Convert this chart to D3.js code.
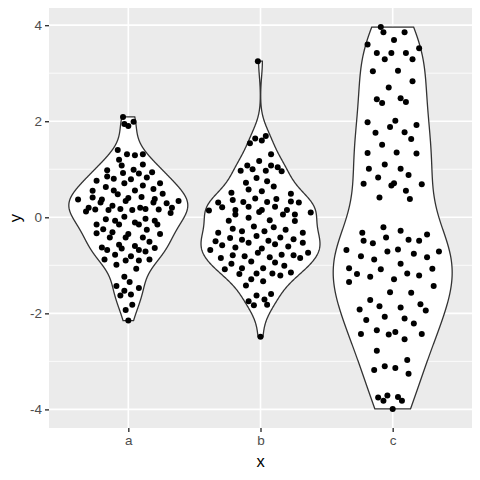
<!DOCTYPE html>
<html>
<head>
<meta charset="utf-8">
<script src="https://cdn.jsdelivr.net/npm/d3@7"></script>
<style>
  body { margin: 0; background: #fff; }
  text { font-family: "Liberation Sans", Arial, sans-serif; }
</style>
</head>
<body>
<div class="violin"></div>
<script>
const CATEGORIES = ['a', 'b', 'c'];

// y values and horizontal jitter (in category-step units)
const A_Y = [2.09, 1.94, 1.90, 1.99, 1.40, 1.31, 1.29, 1.31, 1.20, 1.10, 1.08, 0.98, 0.99, 0.92, 0.91, 0.94, 0.85, 0.80, 0.79, 0.83,
  0.76, 0.71, 0.71, 0.63, 0.66, 0.55, 0.56, 0.48, 0.56, 0.59, 0.49, 0.41, 0.37, 0.40, 0.42, 0.38, 0.37, 0.31, 0.34, 0.31,
  0.29, 0.34, 0.24, 0.20, 0.16, 0.15, 0.17, 0.15, 0.20, 0.17, 0.16, 0.20, 0.12, 0.09, 0.01, -0.04, -0.07, -0.03, -0.07, -0.15,
  -0.15, -0.11, -0.15, -0.15, -0.25, -0.26, -0.33, -0.31, -0.35, -0.35, -0.42, -0.42, -0.42, -0.51, -0.57, -0.63, -0.60, -0.68, -0.65, -0.68,
  -0.71, -0.64, -0.78, -0.81, -0.88, -0.90, -0.90, -0.88, -0.99, -1.07, -1.24, -1.35, -1.43, -1.47, -1.53, -1.63, -1.61, -1.82, -1.93, -2.15];
const A_DX = [-0.04, -0.03, 0.00, 0.04, -0.08, -0.01, 0.05, 0.11, -0.07, 0.11, -0.05, -0.16, 0.04, -0.04, 0.08, 0.18, -0.16, -0.11, 0.02, 0.14,
  -0.24, -0.03, 0.24, -0.17, 0.11, -0.27, -0.11, -0.08, 0.05, 0.19, 0.26, -0.27, -0.20, 0.00, 0.10, 0.20, -0.38, -0.21, -0.02, 0.19,
  0.29, 0.38, -0.12, -0.30, -0.25, -0.15, -0.06, 0.03, 0.09, 0.13, 0.23, 0.33, -0.32, 0.32, -0.03, -0.17, -0.10, 0.13, 0.20, -0.24,
  -0.07, 0.05, 0.08, 0.22, -0.19, 0.14, -0.24, -0.12, 0.00, 0.24, -0.14, -0.02, 0.11, 0.16, -0.07, -0.20, 0.05, -0.16, -0.05, 0.08,
  0.13, 0.20, -0.10, 0.02, -0.18, -0.02, 0.08, 0.16, -0.09, 0.06, -0.03, 0.01, -0.09, 0.08, -0.03, -0.06, 0.02, 0.03, -0.02, 0.00];

const B_Y = [3.25, 1.54, 1.64, 1.60, 1.69, 1.31, 1.17, 1.08, 1.00, 1.08, 1.04, 0.97, 0.97, 0.96, 0.82, 0.72, 0.75, 0.64, 0.58, 0.54,
  0.51, 0.49, 0.36, 0.39, 0.38, 0.33, 0.31, 0.32, 0.32, 0.31, 0.21, 0.22, 0.22, 0.14, 0.15, 0.11, 0.15, 0.15, 0.10, 0.06,
  0.06, 0.06, -0.01, -0.06, -0.07, -0.08, -0.19, -0.21, -0.24, -0.29, -0.29, -0.26, -0.32, -0.32, -0.39, -0.43, -0.42, -0.50, -0.47, -0.53,
  -0.49, -0.46, -0.58, -0.56, -0.53, -0.63, -0.65, -0.61, -0.68, -0.74, -0.78, -0.79, -0.74, -0.79, -0.81, -0.85, -0.85, -0.83, -0.92, -0.94,
  -0.97, -1.08, -1.06, -1.06, -1.01, -1.18, -1.17, -1.17, -1.21, -1.15, -1.29, -1.33, -1.42, -1.63, -1.60, -1.75, -1.71, -1.83, -1.82, -2.49];
const B_DX = [-0.02, -0.08, -0.04, 0.01, 0.04, 0.08, -0.01, -0.10, -0.06, 0.08, 0.13, -0.15, 0.04, 0.16, -0.03, -0.11, 0.05, 0.10, -0.09, 0.01,
  -0.22, 0.23, -0.21, -0.04, 0.12, 0.23, -0.32, -0.13, 0.05, 0.29, -0.29, -0.09, 0.11, -0.39, -0.19, -0.01, 0.01, 0.20, 0.38, -0.19,
  0.17, 0.26, -0.09, 0.07, -0.24, 0.26, -0.05, 0.10, -0.21, -0.14, 0.03, 0.19, -0.32, 0.32, -0.03, -0.23, 0.15, -0.34, -0.14, -0.09,
  0.06, 0.25, -0.29, 0.11, 0.32, -0.19, 0.01, 0.21, -0.38, -0.02, 0.16, 0.25, 0.36, -0.21, -0.12, 0.30, -0.30, 0.07, -0.07, 0.11,
  -0.22, -0.27, -0.14, 0.02, 0.18, -0.16, -0.03, 0.09, 0.15, 0.23, -0.07, 0.02, -0.11, -0.03, 0.08, -0.09, 0.03, -0.05, 0.05, 0.00];

const C_Y = [3.96, 3.85, 3.85, 3.69, 3.60, 3.52, 3.42, 3.42, 3.42, 3.29, 3.29, 3.04, 3.05, 2.83, 2.70, 2.46, 2.38, 2.48, 2.40, 1.98,
  2.01, 1.88, 1.92, 1.76, 1.77, 1.63, 1.51, 1.34, 1.35, 1.33, 1.10, 1.01, 1.01, 0.88, 0.83, 0.70, 0.66, 0.71, 0.69, 0.55,
  0.41, 0.38, -0.21, -0.32, -0.28, -0.42, -0.49, -0.54, -0.47, -0.49, -0.36, -0.68, -0.71, -0.67, -0.76, -0.71, -0.81, -0.88, -0.83, -0.97,
  -1.06, -1.08, -1.07, -1.18, -1.24, -1.17, -1.21, -1.29, -1.35, -1.43, -1.56, -1.57, -1.72, -1.92, -1.85, -1.88, -1.81, -1.94, -2.14, -2.07,
  -2.11, -2.21, -2.43, -2.35, -2.44, -2.39, -2.54, -2.43, -2.78, -3.18, -3.10, -3.14, -2.97, -3.26, -3.75, -3.82, -3.71, -3.74, -3.82, -3.99];
const C_DX = [-0.09, -0.07, 0.09, 0.01, -0.19, 0.20, -0.12, -0.01, 0.10, -0.06, 0.15, -0.15, 0.04, 0.15, -0.03, -0.12, -0.08, 0.06, 0.10, -0.19,
  0.02, -0.02, 0.18, -0.13, 0.09, 0.14, -0.08, -0.19, 0.03, 0.18, -0.06, -0.18, 0.06, 0.12, -0.11, -0.22, -0.01, 0.01, 0.22, 0.10,
  -0.10, 0.13, -0.07, -0.23, 0.06, -0.05, -0.22, -0.15, 0.12, 0.20, 0.26, -0.35, -0.04, 0.04, 0.16, 0.35, -0.24, -0.14, 0.26, 0.06,
  -0.33, -0.09, 0.30, -0.27, -0.17, 0.11, 0.20, 0.01, -0.33, 0.31, -0.02, 0.14, -0.17, -0.25, -0.10, 0.06, 0.21, 0.25, -0.20, -0.06,
  0.09, 0.16, -0.24, -0.12, -0.03, 0.02, 0.09, 0.22, -0.12, -0.14, -0.06, 0.02, 0.11, 0.12, -0.11, -0.07, -0.04, 0.04, 0.07, 0.00];

const Y_TICKS = [-4, -2, 0, 2, 4];
const Y_MINOR = [-3, -1, 1, 3];

const width = 480, height = 480;
const margin = { top: 8, right: 8, bottom: 52, left: 49 };

const groups = [
  { key: 'a', ys: A_Y, dxs: A_DX },
  { key: 'b', ys: B_Y, dxs: B_DX },
  { key: 'c', ys: C_Y, dxs: C_DX }
];

// gaussian kernel density, bw.nrd0, evaluated between min and max (trimmed)
function density(values, n) {
  const sorted = values.slice().sort(d3.ascending);
  const sd = d3.deviation(values);
  const iqr = d3.quantileSorted(sorted, 0.75) - d3.quantileSorted(sorted, 0.25);
  const bw = 0.9 * Math.min(sd, iqr / 1.34) * Math.pow(values.length, -0.2);
  const [lo, hi] = d3.extent(values);
  return d3.range(n).map(i => {
    const y = lo + (hi - lo) * i / (n - 1);
    const d = d3.mean(values, v => Math.exp(-0.5 * ((y - v) / bw) ** 2)) / (bw * Math.sqrt(2 * Math.PI));
    return { y, d };
  });
}

const svg = d3.select('.violin').append('svg')
  .attr('width', width)
  .attr('height', height);

const x = d3.scalePoint()
  .domain(CATEGORIES)
  .range([margin.left, width - margin.right])
  .padding(0.6);

const allY = groups.flatMap(g => g.ys);
const [yMin, yMax] = d3.extent(allY);
const pad = (yMax - yMin) * 0.05;
const y = d3.scaleLinear()
  .domain([yMin - pad, yMax + pad])
  .range([height - margin.bottom, margin.top]);

// panel
svg.append('rect')
  .attr('x', margin.left)
  .attr('y', margin.top)
  .attr('width', width - margin.left - margin.right)
  .attr('height', height - margin.top - margin.bottom)
  .attr('fill', '#EBEBEB');

const grid = svg.append('g');
grid.selectAll('.minor').data(Y_MINOR).enter().append('line')
  .attr('x1', margin.left).attr('x2', width - margin.right)
  .attr('y1', d => y(d)).attr('y2', d => y(d))
  .attr('stroke', '#fff').attr('stroke-width', 0.8);
grid.selectAll('.major').data(Y_TICKS).enter().append('line')
  .attr('x1', margin.left).attr('x2', width - margin.right)
  .attr('y1', d => y(d)).attr('y2', d => y(d))
  .attr('stroke', '#fff').attr('stroke-width', 1.6);
grid.selectAll('.vert').data(CATEGORIES).enter().append('line')
  .attr('x1', d => x(d)).attr('x2', d => x(d))
  .attr('y1', margin.top).attr('y2', height - margin.bottom)
  .attr('stroke', '#fff').attr('stroke-width', 1.6);

// violins
const half = 0.45 * x.step();
groups.forEach(g => {
  const dens = density(g.ys, 512);
  const maxD = d3.max(dens, p => p.d);
  const cx = x(g.key);
  const right = dens.map(p => [cx + p.d / maxD * half, y(p.y)]);
  const left = dens.slice().reverse().map(p => [cx - p.d / maxD * half, y(p.y)]);
  svg.append('path')
    .attr('d', d3.line()(right.concat(left)) + 'Z')
    .attr('fill', '#fff')
    .attr('stroke', '#333333')
    .attr('stroke-width', 1.3);
});

// jittered points
groups.forEach(g => {
  svg.append('g').selectAll('circle')
    .data(g.ys.map((v, i) => ({ v, dx: g.dxs[i] })))
    .enter().append('circle')
    .attr('cx', d => x(g.key) + d.dx * x.step())
    .attr('cy', d => y(d.v))
    .attr('r', 3)
    .attr('fill', '#000');
});

// axes
const yAxis = svg.append('g')
  .attr('transform', `translate(${margin.left},0)`)
  .call(d3.axisLeft(y).tickValues(Y_TICKS).tickSize(4).tickPadding(3).tickFormat(d => String(d)));
const xAxis = svg.append('g')
  .attr('transform', `translate(0,${height - margin.bottom})`)
  .call(d3.axisBottom(x).tickSize(4).tickPadding(3));
[yAxis, xAxis].forEach(ax => {
  ax.select('.domain').remove();
  ax.selectAll('.tick line').attr('stroke', '#333333').attr('stroke-width', 1.4);
  ax.selectAll('.tick text').attr('fill', '#4D4D4D').style('font-size', '13.5px')
    .style('font-family', '"Liberation Sans", Arial, sans-serif');
});

svg.append('text')
  .attr('x', (margin.left + width - margin.right) / 2)
  .attr('y', 467)
  .attr('text-anchor', 'middle')
  .style('font-size', '16.5px')
  .text('x');

svg.append('text')
  .attr('transform', `translate(21,${(margin.top + height - margin.bottom) / 2}) rotate(-90)`)
  .attr('text-anchor', 'middle')
  .style('font-size', '16.5px')
  .text('y');
</script>
</body>
</html>
